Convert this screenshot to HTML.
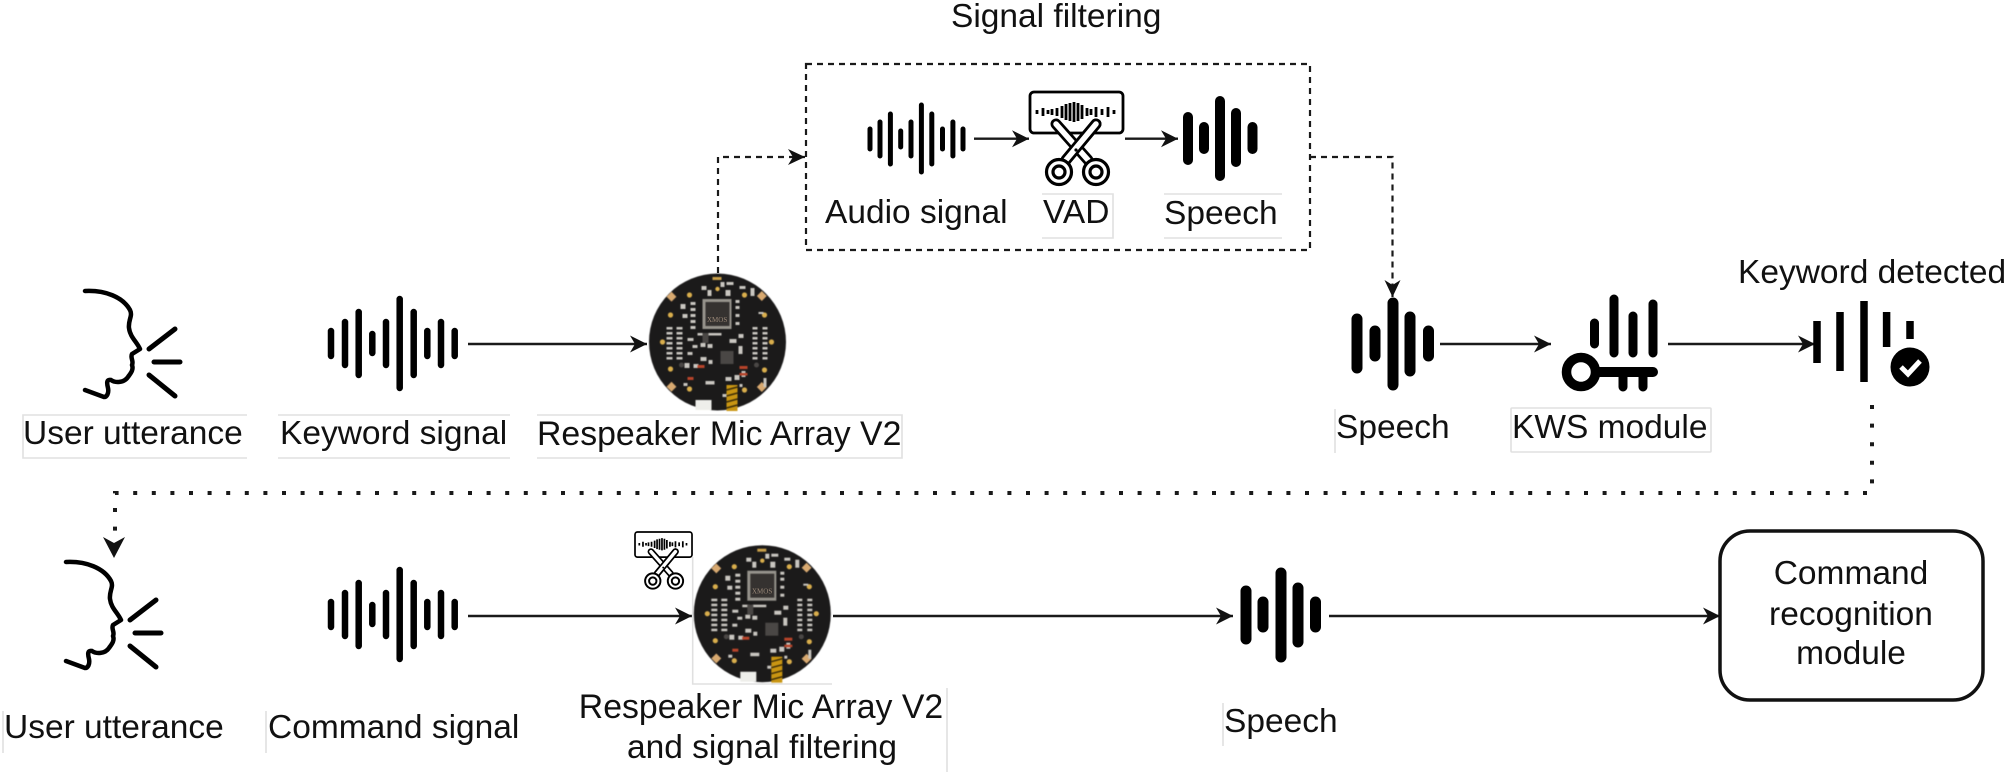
<!DOCTYPE html>
<html><head><meta charset="utf-8">
<style>
html,body{margin:0;padding:0;background:#fff}
svg{display:block}
text{font-family:"Liberation Sans",Arial,sans-serif;font-size:33.5px;fill:#111}
.l{stroke:#e0e0e0;stroke-width:1.6;fill:none}
.a{stroke:#1a1a1a;stroke-width:2.4;fill:none;marker-end:url(#h)}
.d{stroke:#1a1a1a;stroke-width:2.2;fill:none;stroke-dasharray:6 5}
.b{filter:blur(.5px)}
</style></head><body>
<svg xmlns="http://www.w3.org/2000/svg" width="2007" height="772" viewBox="0 0 2007 772">
<defs>
<marker id="h" markerUnits="userSpaceOnUse" markerWidth="20" markerHeight="20" refX="17" refY="9" orient="auto"><path d="M0,0.5 L17,9 L0,17.5 L5,9Z" fill="#111"/></marker>
<marker id="hd" markerUnits="userSpaceOnUse" markerWidth="20" markerHeight="20" refX="17" refY="9" orient="auto"><path d="M0,1 L17,9 L0,17 L5,9Z" fill="#111"/></marker>
<g id="face" fill="none" stroke="#000" stroke-linecap="round" stroke-linejoin="round">
<path stroke-width="4.5" d="M85,291 C105,290 123,297 130,310 C133,316 128,320 129,328 C130,337 137,342 140,349 L132,354 C130,358 134,361 132,365 C134,370 130,374 128,377 C124,383 115,383 111,380 C106,379 107,384 108,388 C109,393 107,397 104,397 L85,390"/>
<path stroke-width="5" d="M149,349 L175,329 M154,362 L180,362 M149,375 L175,396"/>
</g>
<g id="w10" stroke="#000" stroke-width="6.5" stroke-linecap="round" fill="none">
<path d="M331,331V356M345,322V365M358.7,312V375M372.3,334V353M386,322V365M399.7,299V388M413.7,312V375M427.3,331V356M441,322V365M454.7,331V356"/>
</g>
<g id="vad">
<rect x="1030" y="92" width="93" height="41" rx="4" fill="#fff" stroke="#000" stroke-width="2.8"/>
<path d="M1037,110V114M1043,108V116M1048,110V114M1052,109V115M1057,108V116M1062,106V118M1066,104V120M1070,103V121M1074,102V122M1078,103V121M1082,105V119M1087,108V116M1091,109V115M1096,107V117M1102,109V115M1108,107V117M1114,110V114" stroke="#000" stroke-width="2.800" fill="none"/>
<path d="M1056,124L1088,160M1096,124L1066,160" fill="none" stroke="#000" stroke-width="11" stroke-linecap="round"/>
<path d="M1056,124L1088,160" fill="none" stroke="#fff" stroke-width="5.500" stroke-linecap="round"/>
<path d="M1096,124L1066,160" fill="none" stroke="#000" stroke-width="11" stroke-linecap="round"/>
<path d="M1096,124L1066,160" fill="none" stroke="#fff" stroke-width="5.500" stroke-linecap="round"/>
<circle cx="1076" cy="150" r="1.600" fill="#000"/>
<circle cx="1059" cy="172" r="12.500" fill="#fff" stroke="#000" stroke-width="3.200"/>
<circle cx="1059" cy="172" r="6" fill="#fff" stroke="#000" stroke-width="3.200"/>
<circle cx="1096" cy="172" r="12.500" fill="#fff" stroke="#000" stroke-width="3.200"/>
<circle cx="1096" cy="172" r="6" fill="#fff" stroke="#000" stroke-width="3.200"/>
</g>
<g id="board">
<circle r="68.500" fill="#1b1a1a"/>
<rect x="-15" y="-43" width="29" height="30" fill="#96938c"/>
<rect x="-12" y="-40" width="24" height="24" fill="#353230"/>
<rect x="-5" y="-65" width="9" height="3" fill="#c9a04a"/>
<g fill="#d8a970"><rect x="-49" y="-49" width="7" height="7" transform="rotate(45 -46 -46)"/><rect x="41" y="-49" width="7" height="7" transform="rotate(45 45 -46)"/><rect x="-49" y="41" width="7" height="7" transform="rotate(45 -46 44)"/><rect x="41" y="42" width="7" height="7" transform="rotate(45 45 45)"/></g>
<g fill="#d9ae4c"><circle cx="-28" cy="-47" r="2.600"/><circle cx="27" cy="-47" r="2.600"/><circle cx="-47" cy="-27" r="2.600"/><circle cx="47" cy="-27" r="2.600"/><circle cx="-55" cy="0" r="2.600"/><circle cx="54" cy="0" r="2.600"/><circle cx="-47" cy="27" r="2.600"/><circle cx="47" cy="28" r="2.600"/><circle cx="-28" cy="47" r="2.600"/><circle cx="27" cy="48" r="2.600"/><circle cx="0" cy="-53" r="2.200"/></g>
<g fill="#c9c6c0">
<rect x="-51" y="-15" width="6" height="2.500"/><rect x="-51" y="-10" width="6" height="2.500"/><rect x="-51" y="-5" width="6" height="2.500"/><rect x="-51" y="0" width="6" height="2.500"/><rect x="-51" y="5" width="6" height="2.500"/><rect x="-51" y="10" width="6" height="2.500"/><rect x="-51" y="15" width="6" height="2.500"/>
<rect x="-41" y="-15" width="6" height="2.500"/><rect x="-41" y="-10" width="6" height="2.500"/><rect x="-41" y="-5" width="6" height="2.500"/><rect x="-41" y="0" width="6" height="2.500"/><rect x="-41" y="5" width="6" height="2.500"/><rect x="-41" y="10" width="6" height="2.500"/><rect x="-41" y="15" width="6" height="2.500"/>
<rect x="35" y="-15" width="5" height="2.500"/><rect x="35" y="-10" width="5" height="2.500"/><rect x="35" y="-5" width="5" height="2.500"/><rect x="35" y="0" width="5" height="2.500"/><rect x="35" y="5" width="5" height="2.500"/><rect x="35" y="10" width="5" height="2.500"/><rect x="35" y="15" width="5" height="2.500"/>
<rect x="45" y="-15" width="5" height="2.500"/><rect x="45" y="-10" width="5" height="2.500"/><rect x="45" y="-5" width="5" height="2.500"/><rect x="45" y="0" width="5" height="2.500"/><rect x="45" y="5" width="5" height="2.500"/><rect x="45" y="10" width="5" height="2.500"/><rect x="45" y="15" width="5" height="2.500"/>
<rect x="-16" y="-56" width="5" height="4"/><rect x="-10" y="-52" width="4" height="6"/><rect x="3" y="-60" width="4" height="5"/><rect x="9" y="-60" width="7" height="3"/><rect x="8" y="-52" width="5" height="6"/><rect x="22" y="-56" width="6" height="3"/><rect x="33" y="-54" width="4" height="8"/>
<rect x="-27" y="-40" width="5" height="3"/><rect x="-27" y="-34" width="5" height="3"/><rect x="-27" y="-28" width="5" height="3"/><rect x="-27" y="-22" width="5" height="3"/><rect x="-27" y="-16" width="5" height="3"/>
<rect x="-35" y="-28" width="5" height="4"/><rect x="-37" y="-38" width="5" height="5"/><rect x="18" y="-42" width="4" height="3"/><rect x="18" y="-36" width="4" height="3"/><rect x="18" y="-28" width="4" height="3"/><rect x="18" y="-20" width="4" height="3"/>
<rect x="-20" y="-9" width="7" height="2.500"/><rect x="-10" y="-9" width="14" height="2.500"/><rect x="12" y="-3" width="7" height="4"/><rect x="21" y="-8" width="5" height="4"/><rect x="21" y="4" width="4" height="8"/>
<rect x="-30" y="-4" width="6" height="3"/><rect x="-25" y="3" width="5" height="3"/><rect x="-17" y="1" width="5" height="4"/><rect x="-10" y="2" width="5" height="4"/><rect x="-30" y="10" width="5" height="3"/><rect x="-17" y="15" width="6" height="4"/><rect x="-33" y="21" width="5" height="5"/><rect x="-24" y="22" width="5" height="4"/><rect x="-9" y="18" width="4" height="4"/>
<rect x="-12" y="39" width="9" height="3.500"/><rect x="8" y="35" width="6" height="4"/><rect x="17" y="33" width="5" height="5"/><rect x="24" y="29" width="4" height="6"/><rect x="-34" y="41" width="4" height="3"/><rect x="46" y="36" width="3" height="9"/><rect x="5" y="52" width="4" height="3"/><rect x="22" y="42" width="3" height="3"/><rect x="41" y="-30" width="5" height="2"/>
</g>
<g fill="#4a4745"><rect x="3" y="9" width="13" height="13"/><rect x="-15" y="-9" width="6" height="10"/><circle cx="-36" cy="23" r="2.500"/><circle cx="39" cy="23" r="2.500"/></g>
<g fill="#b8442a"><rect x="22" y="24" width="8" height="3"/><rect x="-20" y="23" width="7" height="3"/><rect x="-30" y="35" width="6" height="3"/><rect x="22" y="31" width="8" height="2.500"/></g>
<path d="M-22,58 H-6 V68 H-22Z" fill="#eeeeea"/>
<rect x="9" y="43" width="11" height="26" fill="#c99512"/>
<path d="M9,48 L20,45 M9,54 L20,51 M9,60 L20,57 M9,66 L20,63" stroke="#3c2d08" stroke-width="1.500"/>
</g>
</defs>

<rect width="2007" height="772" fill="#fff"/>

<!-- top: signal filtering -->
<text x="951" y="27">Signal filtering</text>
<rect x="806" y="64" width="504" height="186" fill="none" class="d"/>
<path d="M718,273 V157 H805" class="d" marker-end="url(#hd)"/>
<path d="M1310,157 H1392.500 V297" class="d" marker-end="url(#hd)"/>

<g stroke="#000" stroke-width="5" stroke-linecap="round" fill="none">
<path d="M870,129V149M880,122V156M890.400,114V164M900.700,131V147M911,122V156M921.400,105V172M931.800,114V164M942.500,129V149M952.900,122V156M963,129V149"/>
</g>
<line x1="974" y1="138.700" x2="1029" y2="138.700" class="a"/>
<use href="#vad"/>
<line x1="1125" y1="138.700" x2="1178" y2="138.700" class="a"/>
<g stroke="#000" stroke-width="10" stroke-linecap="round" fill="none">
<path d="M1188,117V160M1204,127V149M1220,101V176M1236,113V162M1252.500,127V149"/>
</g>
<text x="825" y="223">Audio signal</text>
<path class="l" d="M1042,194H1113V238H1042"/>
<text x="1043" y="223">VAD</text>
<path class="l" d="M1164,194H1282M1164,238H1282"/>
<text x="1164" y="224">Speech</text>

<!-- row 1 -->
<use href="#face"/>
<path class="l" d="M247,415H23V458H247"/>
<text x="23" y="444">User utterance</text>
<use href="#w10"/>
<path class="l" d="M510,415H278M278,458H510"/>
<text x="280" y="444">Keyword signal</text>
<line x1="468" y1="344" x2="647" y2="344" class="a"/>
<use href="#board" x="717.500" y="342" class="b"/>
<text x="707" y="322" style="font-size:7px;font-family:'Liberation Serif',serif;fill:#9a8878">XMOS</text>
<path class="l" d="M537,415H902V458H537"/>
<text x="537" y="445" style="font-size:33.800px">Respeaker Mic Array V2</text>

<g stroke="#000" stroke-width="11" stroke-linecap="round" fill="none">
<path d="M1357,319V368M1375,331V356M1393,303V385M1410,317V371M1428.500,331V356"/>
</g>
<line x1="1440" y1="344" x2="1551" y2="344" class="a"/>
<g stroke="#000" stroke-width="9" stroke-linecap="round" fill="none">
<path d="M1594.500,323V344M1614,299V353M1633,316V353M1653,304V353"/>
<circle cx="1581" cy="372" r="14.500" stroke-width="9.500"/>
<path d="M1596,372H1653" stroke-width="10"/>
<path d="M1623,375V387M1643,375V387"/>
</g>
<line x1="1668" y1="344" x2="1815" y2="344" class="a"/>
<g stroke="#000" stroke-width="7.500" fill="none">
<path d="M1817,321V363M1840,312V371M1864,301V382M1886.600,312V347M1910,321V339"/>
</g>
<circle cx="1910" cy="367" r="19.500" fill="#000"/>
<path d="M1901,367L1908,374L1920,361" fill="none" stroke="#fff" stroke-width="5"/>
<text x="1738" y="283">Keyword detected</text>
<path class="l" d="M1335,409V453"/>
<text x="1336" y="438">Speech</text>
<rect class="l" x="1511" y="408" width="200" height="44" rx="1"/>
<text x="1512" y="438">KWS module</text>

<!-- dotted connector -->
<path d="M1872,405 V493 H115 V542" fill="none" stroke="#1a1a1a" stroke-width="4" stroke-dasharray="4 14.600"/>
<path d="M103,537 L114,543 L125,537 L114,558Z" fill="#111"/>

<!-- row 2 -->
<use href="#face" x="-19" y="271"/>
<path class="l" d="M3,711V753"/>
<text x="4" y="738">User utterance</text>
<use href="#w10" y="271"/>
<path class="l" d="M266,711V753"/>
<text x="268" y="738">Command signal</text>
<line x1="468" y1="616" x2="692" y2="616" class="a"/>
<path class="l" d="M692.700,557V684H832"/>
<use href="#board" x="762.300" y="613.700" class="b"/>
<text x="752" y="593.700" style="font-size:7px;font-family:'Liberation Serif',serif;fill:#9a8878">XMOS</text>
<g transform="translate(635,532) scale(.613) translate(-1030,-92)"><use href="#vad"/></g>
<line x1="833" y1="616" x2="1233" y2="616" class="a"/>
<g stroke="#000" stroke-width="11" stroke-linecap="round" fill="none">
<path d="M1246,591V639M1263,602V627M1281,573V657M1298,588V642M1315.500,602V627"/>
</g>
<line x1="1329" y1="616" x2="1720" y2="616" class="a"/>
<rect x="1720" y="531" width="263" height="169" rx="30" fill="#fff" stroke="#111" stroke-width="3.500"/>
<text x="1851" y="584" text-anchor="middle">Command</text>
<text x="1851" y="625" text-anchor="middle">recognition</text>
<text x="1851" y="664" text-anchor="middle">module</text>
<path class="l" d="M1223,703V746"/>
<text x="1224" y="732">Speech</text>
<path class="l" d="M947,688V772"/>
<text x="761" y="718" text-anchor="middle" style="font-size:33.800px">Respeaker Mic Array V2</text>
<text x="762" y="758" text-anchor="middle">and signal filtering</text>
</svg>
</body></html>
